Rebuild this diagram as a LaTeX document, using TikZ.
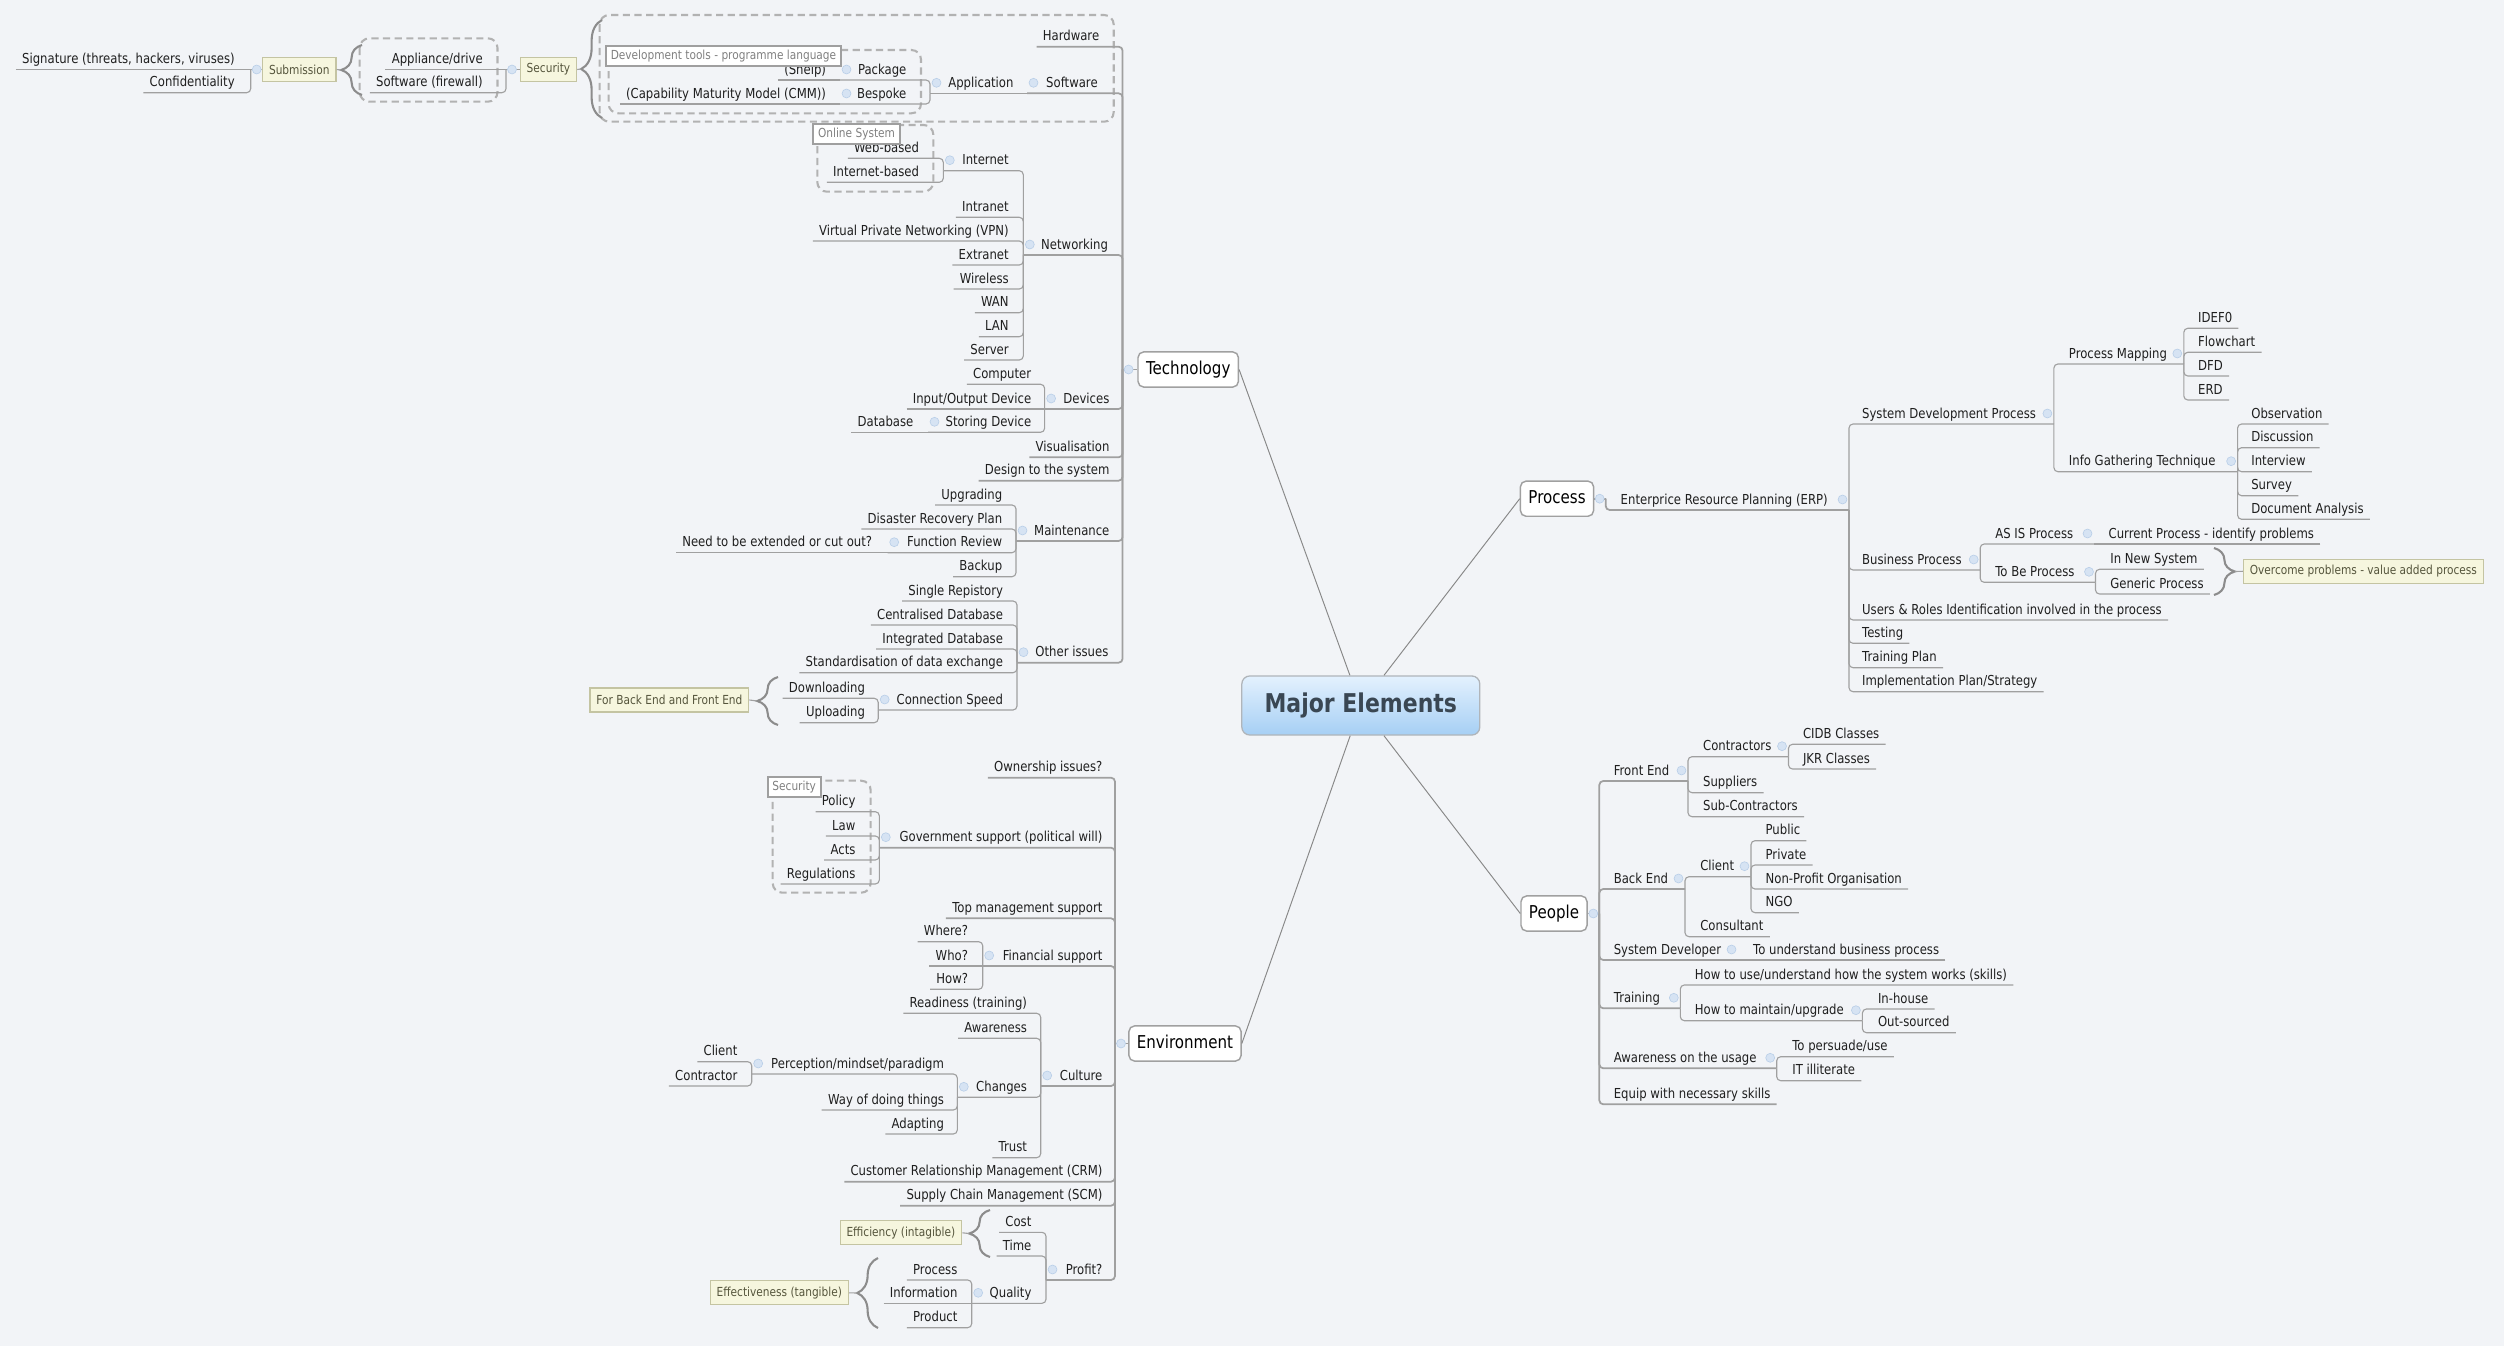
\documentclass[tikz,border=0pt]{standalone}
\usepackage{fontspec}
\setmainfont{DejaVu Sans}[FakeStretch=0.85]
\usetikzlibrary{calc,decorations.pathreplacing}

\definecolor{bgcol}{HTML}{F2F4F7}
\definecolor{linecol}{HTML}{A0A0A0}
\definecolor{bndcol}{HTML}{B2B2B2}
\definecolor{sumfill}{HTML}{F6F6DE}
\definecolor{sumline}{HTML}{C4C4A2}
\definecolor{sumtext}{HTML}{55553C}
\definecolor{foldfill}{HTML}{D6E3F3}
\definecolor{foldline}{HTML}{BACFE8}
\definecolor{centtop}{HTML}{E3F1FE}
\definecolor{centbot}{HTML}{A6CFF4}
\definecolor{centtext}{HTML}{3A4753}

\tikzset{
  tl/.style={anchor=south east, font=\fontsize{8.6}{10}\selectfont, text=black!88,
    inner xsep=3.75pt, inner ysep=1.5pt, text depth=2pt},
  tr/.style={tl, anchor=south west},
  conn/.style={draw=linecol, line width=0.7pt, rounded corners=2.5pt},
  conn1/.style={conn, line width=1.1pt},
  mainline/.style={draw=linecol!85!black, line width=0.6pt},
  centre/.style={draw=centtext!40, line width=0.8pt, rounded corners=5pt,
    top color=centtop, bottom color=centbot, text=centtext,
    font=\bfseries\fontsize{16.2}{19}\selectfont, minimum width=149pt, minimum height=37pt},
  maintopic/.style={draw=linecol, fill=white, line width=0.9pt, rounded corners=3.5pt,
    font=\fontsize{11.1}{13}\selectfont, inner xsep=5pt, minimum height=22pt, text depth=2.2pt},
  sumbox/.style={draw=sumline, fill=sumfill, text=sumtext, line width=0.8pt,
    font=\fontsize{7.8}{9}\selectfont, inner xsep=4pt, minimum height=15pt},
  bnd/.style={draw=bndcol, line width=1.3pt, dash pattern=on 4.5pt off 2.8pt, rounded corners=6pt},
  bndlabel/.style={anchor=north west, draw=gray!75, fill=white, line width=1.2pt, text=gray,
    font=\fontsize{7.8}{9}\selectfont, inner xsep=3pt, inner ysep=2pt, minimum height=12.5pt},
  brc/.style={draw=gray!90, line width=1.3pt, decorate, decoration={brace, amplitude=13pt}},
  fold/.style={fill=foldfill, draw=foldline, line width=0.4pt}
}

\begin{document}
\begin{tikzpicture}[x=0.6262pt, y=-0.6262pt]
\fill[bgcol] (0,0) rectangle (2504,1346);
\useasboundingbox (0,0) rectangle (2504,1346);

% boundaries
\draw[bnd] (599.6,15) rectangle (1113.7,121.7);
\draw[bnd] (608.6,50) rectangle (921,113.3);
\draw[bnd] (359.7,38.3) rectangle (497.5,101.7);
\draw[bnd] (817.3,125) rectangle (933.3,191.7);
\draw[bnd] (772.7,780.7) rectangle (870.7,892.7);

% central topic and main branches
\node[centre] (major) at (1360.8,705.5) {Major Elements};
\node[maintopic] (tech) at (1188.2,369.5) {Technology};
\node[maintopic] (env) at (1185,1043.5) {Environment};
\node[maintopic] (prc) at (1557,498.7) {Process};
\node[maintopic] (ppl) at (1554,913.5) {People};
\draw[mainline] (major) -- (tech.east);
\draw[mainline] (major) -- (env.east);
\draw[mainline] (major) -- (prc.west);
\draw[mainline] (major) -- (ppl.west);
\coordinate (tech-s) at (1122.6,369.5);
\coordinate (env-s) at (1115,1043.5);
\coordinate (prc-s) at (1605.7,498.7);
\coordinate (ppl-s) at (1599.3,913.5);

% technology
\node[tl] (hw) at (1105.5,46.7) {Hardware};
\node[tl] (sw) at (1104,93.3) {Software};
\node[tl] (app) at (1019.8,93.3) {Application};
\node[tl] (pkg) at (912.7,80) {Package};
\node[tl] (shelp) at (832.3,80) {(Shelp)};
\node[tl] (bespoke) at (912.7,104) {Bespoke};
\node[tl] (cmm) at (832.3,104) {(Capability Maturity Model (CMM))};
\node[tl] (net) at (1114.3,255) {Networking};
\node[tl] (inet) at (1015,170.7) {Internet};
\node[tl] (web) at (925.3,158.3) {Web-based};
\node[tl] (ibased) at (925.3,182.3) {Internet-based};
\node[tl] (intra) at (1015,217.3) {Intranet};
\node[tl] (vpn) at (1015,241) {Virtual Private Networking (VPN)};
\node[tl] (extra) at (1015,265) {Extranet};
\node[tl] (wless) at (1015,289) {Wireless};
\node[tl] (wan) at (1015,312.7) {WAN};
\node[tl] (lan) at (1015,336.7) {LAN};
\node[tl] (server) at (1015,360) {Server};
\node[tl] (dev) at (1115.7,409) {Devices};
\node[tl] (comp) at (1037.5,384.3) {Computer};
\node[tl] (io) at (1037.5,409) {Input/Output Device};
\node[tl] (store) at (1037.5,432.3) {Storing Device};
\node[tl] (db) at (919.7,432.3) {Database};
\node[tl] (vis) at (1115.7,457.3) {Visualisation};
\node[tl] (design) at (1115.7,480.7) {Design to the system};
\node[tl] (maint) at (1115.7,541) {Maintenance};
\node[tl] (upg) at (1008.5,505) {Upgrading};
\node[tl] (drp) at (1008.5,529) {Disaster Recovery Plan};
\node[tl] (frev) at (1008.5,552.7) {Function Review};
\node[tl] (cut) at (878.4,552.7) {Need to be extended or cut out?};
\node[tl] (backup) at (1008.5,576.7) {Backup};
\node[tl] (other) at (1114.7,662.7) {Other issues};
\node[tl] (single) at (1009.3,601) {Single Repistory};
\node[tl] (cdb) at (1009.3,625) {Centralised Database};
\node[tl] (integ) at (1009.3,649) {Integrated Database};
\node[tl] (std) at (1009.3,672.7) {Standardisation of data exchange};
\node[tl] (speed) at (1009.3,710) {Connection Speed};
\node[tl] (down) at (871.3,698.3) {Downloading};
\node[tl] (up) at (871.3,722.7) {Uploading};
\coordinate (sw-s) at (1027,93.3);
\coordinate (app-s) at (930,93.3);
\coordinate (pkg-s) at (840,80);
\coordinate (bespoke-s) at (840,104);
\coordinate (net-s) at (1023.3,255);
\coordinate (inet-s) at (943.3,170.7);
\coordinate (dev-s) at (1044.6,409);
\coordinate (store-s) at (928,432.3);
\coordinate (maint-s) at (1016,541);
\coordinate (frev-s) at (887.7,552.7);
\coordinate (other-s) at (1017,662.7);
\coordinate (speed-s) at (878.2,710);

% security and submission summaries
\node[sumbox, anchor=west] (sec) at (519.7,69.5) {Security};
\node[tl] (appl) at (489,69.5) {Appliance/drive};
\node[tl] (swfw) at (489,92.7) {Software (firewall)};
\node[sumbox, anchor=west] (subm) at (262,69.5) {Submission};
\node[tl] (sig) at (241,69.5) {Signature (threats, hackers, viruses)};
\node[tl] (conf) at (241,92.7) {Confidentiality};
\coordinate (sec-s) at (506,69.5);
\coordinate (subm-s) at (250.7,69.5);

% environment
\node[tl] (own) at (1108.7,777.7) {Ownership issues?};
\node[tl] (gov) at (1108.7,847.7) {Government support (political will)};
\node[tl] (policy) at (861.7,811.7) {Policy};
\node[tl] (law) at (861.7,836) {Law};
\node[tl] (acts) at (861.7,860) {Acts};
\node[tl] (regs) at (861.7,884) {Regulations};
\node[tl] (top) at (1108.7,918.3) {Top management support};
\node[tl] (fin) at (1108.7,966) {Financial support};
\node[tl] (where) at (974.3,941.7) {Where?};
\node[tl] (who) at (974.3,966) {Who?};
\node[tl] (how) at (974.3,989.3) {How?};
\node[tl] (cult) at (1108.7,1086) {Culture};
\node[tl] (ready) at (1033.3,1013.3) {Readiness (training)};
\node[tl] (aware) at (1033.3,1038.3) {Awareness};
\node[tl] (chg) at (1033.3,1097.3) {Changes};
\node[tl] (perc) at (950.3,1074) {Perception/mindset/paradigm};
\node[tl] (client) at (743.7,1061.7) {Client};
\node[tl] (contr) at (743.7,1086) {Contractor};
\node[tl] (way) at (950.3,1110) {Way of doing things};
\node[tl] (adapt) at (950.3,1134) {Adapting};
\node[tl] (trust) at (1033.3,1157.7) {Trust};
\node[tl] (crm) at (1108.7,1181.7) {Customer Relationship Management (CRM)};
\node[tl] (scm) at (1108.7,1205.7) {Supply Chain Management (SCM)};
\node[tl] (profit) at (1108.7,1280) {Profit?};
\node[tl] (cost) at (1037.7,1232.3) {Cost};
\node[tl] (time) at (1037.7,1256) {Time};
\node[tl] (qual) at (1037.7,1303.3) {Quality};
\node[tl] (proc) at (963.7,1280) {Process};
\node[tl] (info) at (963.7,1303.3) {Information};
\node[tl] (prod) at (963.7,1327.7) {Product};
\coordinate (gov-s) at (879.3,847.7);
\coordinate (fin-s) at (982.7,966);
\coordinate (cult-s) at (1040.7,1086);
\coordinate (chg-s) at (957.3,1097.3);
\coordinate (perc-s) at (751.7,1074);
\coordinate (profit-s) at (1046,1280);
\coordinate (qual-s) at (971.7,1303.3);

% process
\node[tr] (erp) at (1614.4,510) {Enterprice Resource Planning (ERP)};
\node[tr] (sdp) at (1855.8,424) {System Development Process};
\node[tr] (pm) at (2062.6,364) {Process Mapping};
\node[tr] (idef) at (2191.9,328.3) {IDEF0};
\node[tr] (flow) at (2191.9,352.3) {Flowchart};
\node[tr] (dfd) at (2191.9,376) {DFD};
\node[tr] (erd) at (2191.9,400) {ERD};
\node[tr] (igt) at (2062.6,471.7) {Info Gathering Technique};
\node[tr] (obs) at (2245,424) {Observation};
\node[tr] (disc) at (2245,447.7) {Discussion};
\node[tr] (intv) at (2245,471.7) {Interview};
\node[tr] (surv) at (2245,495.7) {Survey};
\node[tr] (doc) at (2245,519.3) {Document Analysis};
\node[tr] (bp) at (1855.8,570) {Business Process};
\node[tr] (asis) at (1989,544) {AS IS Process};
\node[tr] (cur) at (2102.3,544) {Current Process - identify problems};
\node[tr] (tobe) at (1989,582.3) {To Be Process};
\node[tr] (newsys) at (2104,569.3) {In New System};
\node[tr] (generic) at (2104,594) {Generic Process};
\node[tr] (users) at (1855.8,620) {Users \& Roles Identification involved in the process};
\node[tr] (test) at (1855.8,643.3) {Testing};
\node[tr] (tplan) at (1855.8,667.7) {Training Plan};
\node[tr] (impl) at (1855.8,691.7) {Implementation Plan/Strategy};
\coordinate (erp-s) at (1849,510);
\coordinate (sdp-s) at (2053.9,424);
\coordinate (pm-s) at (2183.8,364);
\coordinate (igt-s) at (2237.6,471.7);
\coordinate (bp-s) at (1980.2,570);
\coordinate (asis-s) at (2094,544);
\coordinate (tobe-s) at (2095.5,582.3);

% people
\node[tr] (fe) at (1607.5,781) {Front End};
\node[tr] (contr2) at (1696.8,756.7) {Contractors};
\node[tr] (cidb) at (1796.7,744.3) {CIDB Classes};
\node[tr] (jkr) at (1796.7,769) {JKR Classes};
\node[tr] (supp) at (1696.8,792.7) {Suppliers};
\node[tr] (subc) at (1696.8,816.7) {Sub-Contractors};
\node[tr] (be) at (1607.5,889) {Back End};
\node[tr] (cli) at (1694,876.7) {Client};
\node[tr] (pub) at (1759.3,840.7) {Public};
\node[tr] (priv) at (1759.3,865) {Private};
\node[tr] (npo) at (1759.3,889) {Non-Profit Organisation};
\node[tr] (ngo) at (1759.3,912.7) {NGO};
\node[tr] (cons) at (1694,936.7) {Consultant};
\node[tr] (sysdev) at (1607.5,960) {System Developer};
\node[tr] (undst) at (1746.8,960) {To understand business process};
\node[tr] (train) at (1607.5,1008.3) {Training};
\node[tr] (howuse) at (1688.6,985) {How to use/understand how the system works (skills)};
\node[tr] (howmnt) at (1688.6,1020.7) {How to maintain/upgrade};
\node[tr] (inh) at (1871.7,1009) {In-house};
\node[tr] (outs) at (1871.7,1032.7) {Out-sourced};
\node[tr] (aou) at (1607.5,1068.3) {Awareness on the usage};
\node[tr] (pers) at (1786,1056.7) {To persuade/use};
\node[tr] (itil) at (1786,1080.7) {IT illiterate};
\node[tr] (equip) at (1607.5,1104.3) {Equip with necessary skills};
\coordinate (fe-s) at (1688,781);
\coordinate (contr2-s) at (1788.5,756.7);
\coordinate (be-s) at (1685,889);
\coordinate (cli-s) at (1751,876.7);
\coordinate (sysdev-s) at (1738,960);
\coordinate (train-s) at (1680.3,1008.3);
\coordinate (howmnt-s) at (1862.4,1020.7);
\coordinate (aou-s) at (1776.7,1068.3);

% underline ends of the leaves
\foreach \c in {hw,shelp,cmm,web,ibased,intra,vpn,extra,wless,wan,lan,server,comp,io,db,vis,design,
  upg,drp,cut,backup,single,cdb,integ,std,down,up,appl,swfw,sig,conf,own,policy,law,acts,regs,top,
  where,who,how,ready,aware,client,contr,way,adapt,trust,crm,scm,cost,time,proc,info,prod}
  \coordinate (\c-s) at (\c.south west);
\foreach \c in {idef,flow,dfd,erd,obs,disc,intv,surv,doc,cur,newsys,generic,users,test,tplan,impl,
  cidb,jkr,supp,subc,pub,priv,npo,ngo,cons,undst,howuse,inh,outs,pers,itil,equip}
  \coordinate (\c-s) at (\c.south east);

% connectors
\foreach \c/\p in {hw/tech,sw/tech,net/tech,dev/tech,vis/tech,design/tech,maint/tech,other/tech,
  own/env,gov/env,top/env,fin/env,cult/env,crm/env,scm/env,profit/env,erp/prc,
  fe/ppl,be/ppl,sysdev/ppl,train/ppl,aou/ppl,equip/ppl}
  \draw[conn1] (\c-s) -- (\c-s -| \p-s) -- (\p-s);
\foreach \c/\p in {tech/tech,env/env} \draw[conn1] (\c-s) -- (\c.west);
\foreach \c/\p in {prc/prc,ppl/ppl} \draw[conn1] (\c-s) -- (\c.east);
\draw[conn] (sec-s) -- (sec.west);
\draw[conn] (subm-s) -- (subm.west);
\foreach \c/\p in {pkg/app,bespoke/app,web/inet,ibased/inet,inet/net,intra/net,vpn/net,extra/net,
  wless/net,wan/net,lan/net,server/net,comp/dev,store/dev,upg/maint,drp/maint,frev/maint,
  backup/maint,single/other,cdb/other,integ/other,std/other,speed/other,down/speed,up/speed,
  swfw/sec,conf/subm,policy/gov,law/gov,acts/gov,regs/gov,where/fin,how/fin,ready/cult,aware/cult,
  chg/cult,trust/cult,perc/chg,way/chg,adapt/chg,client/perc,contr/perc,cost/profit,time/profit,
  qual/profit,proc/qual,prod/qual,
  sdp/erp,bp/erp,users/erp,test/erp,tplan/erp,impl/erp,pm/sdp,igt/sdp,idef/pm,flow/pm,dfd/pm,
  erd/pm,obs/igt,disc/igt,intv/igt,surv/igt,doc/igt,asis/bp,tobe/bp,newsys/tobe,generic/tobe,
  contr2/fe,supp/fe,subc/fe,cidb/contr2,jkr/contr2,cli/be,cons/be,pub/cli,priv/cli,npo/cli,
  ngo/cli,howuse/train,howmnt/train,inh/howmnt,outs/howmnt,pers/aou,itil/aou}
  \draw[conn] (\c-s) -- (\c-s -| \p-s) -- (\p-s);
\foreach \c/\p in {app/sw,shelp/pkg,cmm/bespoke,io/dev,db/store,cut/frev,appl/sec,sig/subm,
  who/fin,info/qual,cur/asis,undst/sysdev}
  \draw[conn] (\c-s) -- (\p-s);

% collapse marks
\foreach \p in {sw,app,pkg,bespoke,net,inet,dev,store,maint,frev,other,speed,gov,fin,cult,chg,perc,profit,qual}
  \filldraw[fold] ($(\p-s)+(6.5,-10.5)$) circle (2.8pt);
\foreach \p in {erp,sdp,pm,igt,bp,asis,tobe,fe,contr2,be,cli,sysdev,train,howmnt,aou}
  \filldraw[fold] ($(\p-s)+(-6.5,-10.5)$) circle (2.8pt);
\foreach \p in {tech,env,sec,subm} \filldraw[fold] ($(\p-s)+(6,0)$) circle (2.8pt);
\foreach \p in {prc,ppl} \filldraw[fold] ($(\p-s)+(-6,0)$) circle (2.8pt);

% summaries
\draw[brc] (362,95) -- (362,45);
\coordinate (subm-tip) at (341,70);
\draw[brc] (602,118) -- (602,20);
\coordinate (sec-tip) at (581,69);
\draw[brc] (778,725) -- (778,677);
\coordinate (bf-tip) at (757,701);
\draw[brc] (990,1257) -- (990,1210);
\coordinate (effic-tip) at (969,1233.5);
\draw[brc] (878,1328) -- (878,1258);
\coordinate (effect-tip) at (857,1293);
\draw[brc] (2214,548) -- (2214,595);
\coordinate (overc-tip) at (2235,571.5);
\node[sumbox, anchor=east] (backfront) at (749.4,700) {For Back End and Front End};
\node[sumbox, anchor=east] (effic) at (962.3,1232.8) {Efficiency (intagible)};
\node[sumbox, anchor=east] (effect) at (849,1292.8) {Effectiveness (tangible)};
\node[sumbox, anchor=west] (overc) at (2242.8,571.3) {Overcome problems - value added process};
\draw[conn] (subm.east) -- (subm-tip);
\draw[conn] (sec.east) -- (sec-tip);
\draw[conn] (backfront.east) -- (bf-tip);
\draw[conn] (effic.east) -- (effic-tip);
\draw[conn] (effect.east) -- (effect-tip);
\draw[conn] (overc-tip) -- (overc.west);

% boundary labels
\node[bndlabel] (devlab) at (605,45) {Development tools - programme language};
\node[bndlabel] (onlab) at (812.3,123.3) {Online System};
\node[bndlabel] (seclab) at (766.7,776) {Security};
\end{tikzpicture}
\end{document}
